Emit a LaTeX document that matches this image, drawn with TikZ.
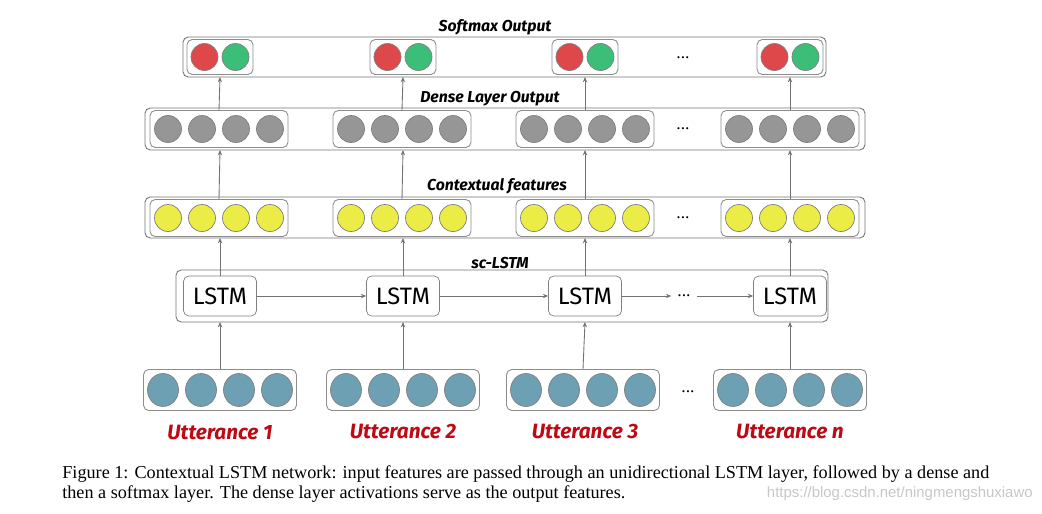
\documentclass[tikz,border=0pt]{standalone}
\usepackage{fontspec}
\setmainfont{Liberation Serif}
\newfontfamily\lblfont{Fira Sans}
\newfontfamily\wmfont{Liberation Sans}
\usetikzlibrary{arrows.meta,shapes.geometric}
\definecolor{cred}{RGB}{222,72,74}
\definecolor{cgreen}{RGB}{60,190,120}
\definecolor{cgray}{RGB}{150,150,150}
\definecolor{cyel}{RGB}{236,236,70}
\definecolor{cblue}{RGB}{110,160,180}
\definecolor{dred}{RGB}{190,10,20}
\begin{document}
\begin{tikzpicture}[x=0.02cm,y=-0.02cm,
  outer/.style={draw=black!55,rounded corners=3pt,line width=0.5pt},
  inner/.style={draw=black!45,rounded corners=3pt,fill=white,line width=0.5pt},
  ball/.style={circle,draw=black!50,line width=0.4pt,minimum size=0.54cm,inner sep=0pt},
  ibal/.style={ellipse,draw=black!50,line width=0.4pt,minimum width=0.62cm,minimum height=0.66cm,inner sep=0pt},
  lstm/.style={draw=black!50,rounded corners=3pt,fill=white,minimum width=1.46cm,minimum height=0.8cm,font=\lblfont\fontsize{13.5}{15}\selectfont},
  ttl/.style={font=\lblfont\bfseries\itshape\fontsize{9}{11}\selectfont},
  utt/.style={font=\lblfont\bfseries\itshape\fontsize{11.8}{14}\selectfont,text=dred},
  arr/.style={draw=black!55,line width=0.5pt,-{Stealth[length=3pt,width=2.5pt]}}]
\useasboundingbox (0,0) rectangle (1042,514);
% Softmax row
\draw[outer] (183,37) rectangle (826,77);
\node[ttl] (tsm) at (495,27) {Softmax Output};
\foreach \c/\x in {1/220,2/403,3/585,4/790}{
  \node[inner,minimum width=1.32cm,minimum height=0.7cm] (sm\c) at (\x,57) {};
  \node[ball,fill=cred] (smr\c) at (\x-15.5,57) {};
  \node[ball,fill=cgreen] (smg\c) at (\x+15.5,57) {};
}
\node (smd) at (683,58) {...};
% Dense row
\draw[outer] (145,108) rectangle (865,150);
\node[ttl] (tdn) at (490,99) {Dense Layer Output};
\foreach \c/\x in {1/219,2/402,3/585,4/790}{
  \node[inner,minimum width=2.76cm,minimum height=0.74cm] (dn\c) at (\x,129) {};
  \foreach \k/\o in {1/-51,2/-17,3/17,4/51}{
    \node[ball,fill=cgray] (dn\c b\k) at (\x+\o,129) {};}
}
\node (dnd) at (683,129) {...};
% Contextual row
\draw[outer] (145,197) rectangle (865,238);
\node[ttl] (tcx) at (497,186) {Contextual features};
\foreach \c/\x in {1/219,2/402,3/585,4/790}{
  \node[inner,minimum width=2.76cm,minimum height=0.74cm] (cx\c) at (\x,218) {};
  \foreach \k/\o in {1/-51,2/-17,3/17,4/51}{
    \node[ball,fill=cyel] (cx\c b\k) at (\x+\o,218) {};}
}
\node (cxd) at (683,218) {...};
% LSTM row
\draw[outer] (176,270) rectangle (828,322);
\node[ttl] (tls) at (500,263) {sc-LSTM};
\foreach \c/\x in {1/220,2/403,3/585,4/790}{
  \node[lstm] (ls\c) at (\x,296) {LSTM};
}
\node (lsd) at (684,296) {...};
\draw[arr] (ls1) -- (ls2);
\draw[arr] (ls2) -- (ls3);
\draw[arr] (ls3.east) -- (lsd.west);
\draw[arr] (lsd.east) -- (ls4.west);
% Input row
\foreach \c/\x in {1/220,2/403,3/583,4/790}{
  \node[inner,minimum width=3.06cm,minimum height=0.82cm] (in\c) at (\x,390) {};
  \foreach \k/\o in {1/-57,2/-19,3/19,4/57}{
    \node[ibal,fill=cblue] (in\c b\k) at (\x+\o,390) {};}
}
\node (ind) at (688,392) {...};
\node[utt] (u1) at (220,432) {Utterance 1};
\node[utt] (u2) at (403,431) {Utterance 2};
\node[utt] (u3) at (585,431) {Utterance 3};
\node[utt] (u4) at (790,431) {Utterance n};
% vertical arrows
\foreach \c/\x in {1/220,2/403,3/585,4/790}{
  \coordinate (a\c) at (\x,322);
  \coordinate (b\c) at (\x,238);
  \coordinate (d\c) at (\x,150);
  \coordinate (s\c) at (\x,77);
  \draw[arr] (in\c.north) -- (a\c);
  \draw[arr] (ls\c.north) -- (b\c);
  \draw[arr] (cx\c.north) -- (d\c);
  \draw[arr] (dn\c.north) -- (s\c);
}
% caption
\node[anchor=west,font=\fontsize{10.35}{12}\selectfont,inner sep=0pt] (cap1) at (62,474) {Figure 1: Contextual LSTM network: input features are passed through an unidirectional LSTM layer, followed by a dense and};
\node[anchor=west,font=\fontsize{10.35}{12}\selectfont,inner sep=0pt] (cap2) at (62,494) {then a softmax layer. The dense layer activations serve as the output features.};
\node[anchor=east,font=\wmfont\fontsize{8.5}{10}\selectfont,text=black!22,inner sep=0pt] (wm) at (1033,494) {https://blog.csdn.net/ningmengshuxiawo};
\end{tikzpicture}
\end{document}
